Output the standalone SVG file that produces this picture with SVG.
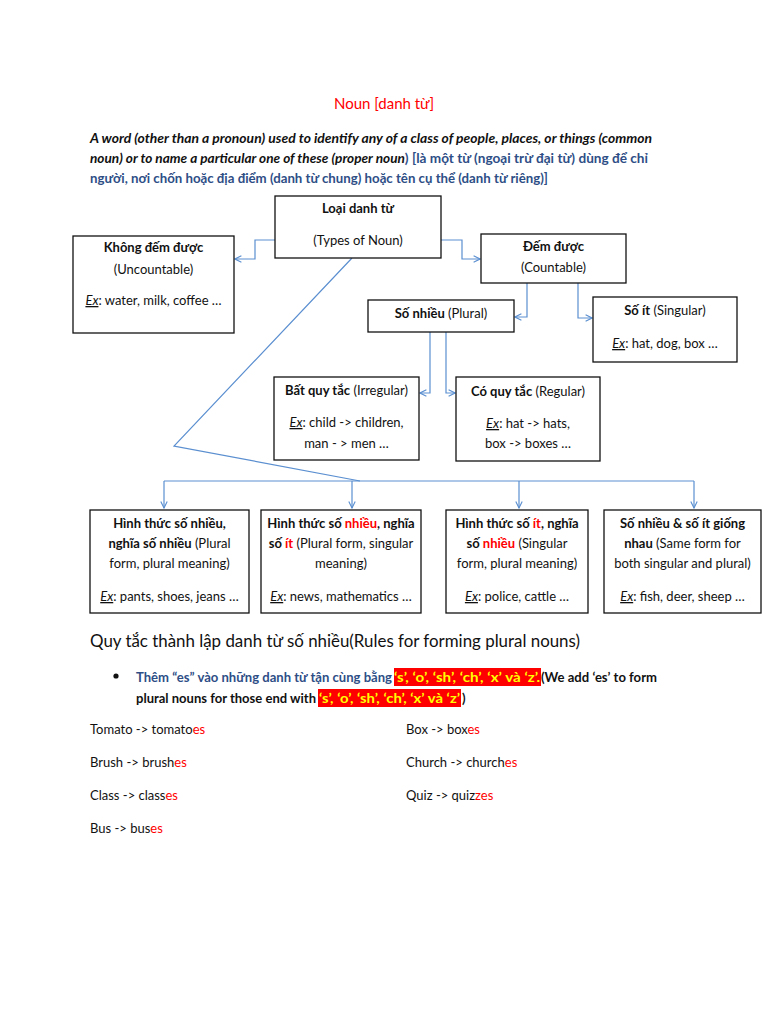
<svg xmlns="http://www.w3.org/2000/svg" width="768" height="1024" viewBox="0 0 768 1024">
<defs>
<style>
text{font-family:Lato,"Open Sans","Liberation Sans",sans-serif;font-size:13px;fill:#111;}
.c{text-anchor:middle;}
.b{font-weight:bold;}
.r{fill:#ff0000;}
.bl{fill:#2e4e86;}
.ex{font-style:italic;text-decoration:underline;}
.box{fill:#fff;stroke:#111;stroke-width:1.3;}
.ln{fill:none;stroke:#5b8fd0;stroke-width:1.2;}
.hl{fill:#ff0000;}
.y{fill:#ffff00;font-weight:bold;}
</style>
<marker id="ar" viewBox="0 0 10 10" refX="9" refY="5" markerWidth="8" markerHeight="8" markerUnits="userSpaceOnUse" orient="auto">
<path d="M1,1 L9,5 L1,9" fill="none" stroke="#5b8fd0" stroke-width="1.4"/>
</marker>
</defs>
<rect width="768" height="1024" fill="#fff"/>

<text x="384" y="109" class="c r" style="font-size:15px">Noun [danh từ]</text>
<text x="90" y="143" class="b" style="font-style:italic" textLength="562" lengthAdjust="spacingAndGlyphs">A word (other than a pronoun) used to identify any of a class of people, places, or things (common</text>
<text x="90" y="163" textLength="558" lengthAdjust="spacingAndGlyphs"><tspan class="b" style="font-style:italic">noun) or to name a particular one of these (proper noun</tspan><tspan class="b bl">) [là một từ (ngoại trừ đại từ) dùng để chỉ</tspan></text>
<text x="90" y="183" class="b bl" textLength="458" lengthAdjust="spacingAndGlyphs">người, nơi chốn hoặc địa điểm (danh từ chung) hoặc tên cụ thể (danh từ riêng)]</text>

<g id="connectors">
<path class="ln" d="M275,240 H255 V259 H235" marker-end="url(#ar)"/>
<path class="ln" d="M441,240 H462 V259 H480" marker-end="url(#ar)"/>
<path class="ln" d="M352,258 L174,446 L360,481"/>
<path class="ln" d="M164,481 H694"/>
<path class="ln" d="M164,481 V508" marker-end="url(#ar)"/>
<path class="ln" d="M352,481 V508" marker-end="url(#ar)"/>
<path class="ln" d="M519,481 V508" marker-end="url(#ar)"/>
<path class="ln" d="M694,481 V508" marker-end="url(#ar)"/>
<path class="ln" d="M527,283 V317 H515" marker-end="url(#ar)"/>
<path class="ln" d="M578,283 V318 H592" marker-end="url(#ar)"/>
<path class="ln" d="M430,332 V393 H420" marker-end="url(#ar)"/>
<path class="ln" d="M446,332 V393 H455" marker-end="url(#ar)"/>
</g>

<g id="loai">
<rect class="box" x="275" y="196" width="166" height="62"/>
<text x="358" y="213" class="c b">Loại danh từ</text>
<text x="358" y="245" class="c">(Types of Noun)</text>
</g>
<g id="khong-dem-duoc">
<rect class="box" x="73" y="236" width="161" height="97"/>
<text x="153.5" y="252" class="c b">Không đếm được</text>
<text x="153.5" y="274" class="c">(Uncountable)</text>
<text x="153.5" y="305" class="c"><tspan class="ex">Ex</tspan>: water, milk, coffee …</text>
</g>
<g id="dem-duoc">
<rect class="box" x="481" y="234" width="145" height="49"/>
<text x="553.5" y="251" class="c b">Đếm được</text>
<text x="553.5" y="272" class="c">(Countable)</text>
</g>
<g id="so-nhieu">
<rect class="box" x="368" y="300" width="146" height="32"/>
<text x="441" y="318" class="c"><tspan class="b">Số nhiều</tspan> (Plural)</text>
</g>
<g id="so-it">
<rect class="box" x="593" y="297" width="144" height="65"/>
<text x="665" y="315" class="c"><tspan class="b">Số ít</tspan> (Singular)</text>
<text x="665" y="348" class="c"><tspan class="ex">Ex</tspan>: hat, dog, box …</text>
</g>
<g id="bat-quy-tac">
<rect class="box" x="274" y="377" width="145" height="83"/>
<text x="346.5" y="395" class="c"><tspan class="b">Bất quy tắc</tspan> (Irregular)</text>
<text x="346.5" y="427" class="c"><tspan class="ex">Ex</tspan>: child -&gt; children,</text>
<text x="346.5" y="448" class="c">man - &gt; men …</text>
</g>
<g id="co-quy-tac">
<rect class="box" x="456" y="377" width="144" height="84"/>
<text x="528" y="396" class="c"><tspan class="b">Có quy tắc</tspan> (Regular)</text>
<text x="528" y="428" class="c"><tspan class="ex">Ex</tspan>: hat -&gt; hats,</text>
<text x="528" y="448" class="c">box -&gt; boxes …</text>
</g>
<g id="plural-plural">
<rect class="box" x="90" y="510" width="159" height="103"/>
<text x="169.5" y="528" class="c b">Hình thức số nhiều,</text>
<text x="169.5" y="548" class="c"><tspan class="b">nghĩa số nhiều</tspan> (Plural</text>
<text x="169.5" y="568" class="c">form, plural meaning)</text>
<text x="169.5" y="601" class="c"><tspan class="ex">Ex</tspan>: pants, shoes, jeans …</text>
</g>
<g id="plural-singular">
<rect class="box" x="261" y="510" width="160" height="103"/>
<text x="341" y="528" class="c b">Hình thức số <tspan class="r">nhiều</tspan>, nghĩa</text>
<text x="341" y="548" class="c"><tspan class="b">số </tspan><tspan class="b r">ít</tspan> (Plural form, singular</text>
<text x="341" y="568" class="c">meaning)</text>
<text x="341" y="601" class="c"><tspan class="ex">Ex</tspan>: news, mathematics …</text>
</g>
<g id="singular-plural">
<rect class="box" x="446" y="510" width="142" height="103"/>
<text x="517" y="528" class="c b">Hình thức số <tspan class="r">ít</tspan>, nghĩa</text>
<text x="517" y="548" class="c"><tspan class="b">số </tspan><tspan class="b r">nhiều</tspan> (Singular</text>
<text x="517" y="568" class="c">form, plural meaning)</text>
<text x="517" y="601" class="c"><tspan class="ex">Ex</tspan>: police, cattle …</text>
</g>
<g id="same-form">
<rect class="box" x="604" y="510" width="157" height="103"/>
<text x="682.5" y="528" class="c b">Số nhiều &amp; số ít giống</text>
<text x="682.5" y="548" class="c"><tspan class="b">nhau</tspan> (Same form for</text>
<text x="682.5" y="568" class="c">both singular and plural)</text>
<text x="682.5" y="601" class="c"><tspan class="ex">Ex</tspan>: fish, deer, sheep …</text>
</g>

<text x="90" y="647" style="font-size:17.5px" textLength="490" lengthAdjust="spacingAndGlyphs">Quy tắc thành lập danh từ số nhiều(Rules for forming plural nouns)</text>
<circle cx="116" cy="676" r="2.6" fill="#111"/>
<rect class="hl" x="394" y="668" width="147" height="18"/>
<rect class="hl" x="318" y="689" width="143" height="18"/>
<text x="136" y="682" class="b bl" textLength="256" lengthAdjust="spacingAndGlyphs">Thêm “es” vào những danh từ tận cùng bằng</text>
<text x="394" y="682" class="y" textLength="146" lengthAdjust="spacingAndGlyphs">‘s’, ‘o’, ‘sh’, ‘ch’, ‘x’ và ‘z’.</text>
<text x="541" y="682" class="b" textLength="116" lengthAdjust="spacingAndGlyphs">(We add ‘es’ to form</text>
<text x="136" y="703" class="b" textLength="180" lengthAdjust="spacingAndGlyphs">plural nouns for those end with</text>
<text x="319" y="703" class="y" textLength="141" lengthAdjust="spacingAndGlyphs">‘s’, ‘o’, ‘sh’, ‘ch’, ‘x’ và ‘z’</text>
<text x="462" y="703" class="b">)</text>

<text x="90" y="734">Tomato -&gt; tomato<tspan class="r">es</tspan></text>
<text x="90" y="767">Brush -&gt; brush<tspan class="r">es</tspan></text>
<text x="90" y="800">Class -&gt; class<tspan class="r">es</tspan></text>
<text x="90" y="833">Bus -&gt; bus<tspan class="r">es</tspan></text>
<text x="406" y="734">Box -&gt; box<tspan class="r">es</tspan></text>
<text x="406" y="767">Church -&gt; church<tspan class="r">es</tspan></text>
<text x="406" y="800">Quiz -&gt; quiz<tspan class="r">zes</tspan></text>
</svg>
